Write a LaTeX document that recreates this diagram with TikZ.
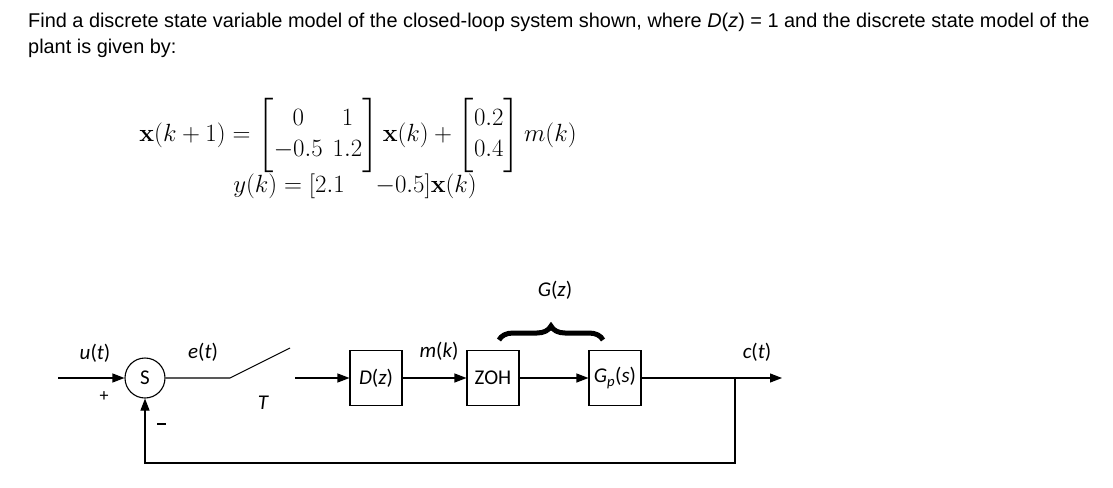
\documentclass[tikz,border=0pt]{standalone}
\usepackage{amsmath,amssymb}
\usepackage[no-math]{fontspec}
\setmainfont{Liberation Sans}
\newfontfamily\carl{Carlito}
\usetikzlibrary{arrows.meta,decorations.pathreplacing}
\begin{document}
\begin{tikzpicture}[x=1pt,y=-1pt,
  blk/.style={draw,line width=1.1pt,minimum width=52pt,minimum height=55pt,inner sep=0pt,font=\carl\fontsize{21}{21}\selectfont},
  lbl/.style={font=\carl\fontsize{21}{21}\selectfont\itshape,inner sep=0pt},
  ln/.style={line width=1.1pt},
  arr/.style={ln,-{Triangle[length=12pt,width=9pt]}}]
\useasboundingbox (0,0) rectangle (1113,487);
\node[anchor=base west,inner sep=0pt,font=\fontsize{19.9}{19.9}\selectfont] (t1) at (28,28) {Find a discrete state variable model of the closed-loop system shown, where \textit{D}(\textit{z}) = 1 and the discrete state model of the};
\node[anchor=base west,inner sep=0pt,font=\fontsize{19.9}{19.9}\selectfont] (t2) at (28,54) {plant is given by:};
\node[inner sep=0pt,font=\fontsize{31}{31}\selectfont] (eq1) at (358,135) {$\mathbf{x}(k+1)=\begin{bmatrix}0 & 1\\ -0.5 & 1.2\end{bmatrix}\mathbf{x}(k)+\begin{bmatrix}0.2\\ 0.4\end{bmatrix}m(k)$};
\node[inner sep=0pt,font=\fontsize{31}{31}\selectfont] (eq2) at (355,186) {$y(k)=[2.1\quad {-0.5}]\mathbf{x}(k)$};
% diagram
\coordinate (in) at (58,378);
\node[draw,circle,ln,minimum size=40pt,inner sep=0pt,font=\carl\fontsize{21}{21}\selectfont] (S) at (145,378) {S};
\coordinate (sw1) at (230,378);
\coordinate (sw2) at (290,348);
\coordinate (g1) at (295,378);
\node[blk] (D) at (376,378) {\itshape D\upshape(\itshape z\upshape)};
\node[blk] (Z) at (493,378) {ZOH};
\node[blk] (G) at (615,378) {\itshape G\textsubscript{\itshape p}\upshape(\itshape s\upshape)};
\coordinate (br) at (735,378);
\coordinate (out) at (782,378);
\coordinate (b1) at (735,463);
\coordinate (b2) at (145,463);
\draw[arr] (in) -- (S);
\draw[ln] (S) -- (sw1) -- (sw2);
\draw[arr] (g1) -- (D);
\draw[arr] (D) -- (Z);
\draw[arr] (Z) -- (G);
\draw[arr] (G) -- (out);
\draw[arr] (br) -- (b1) -- (b2) -- (S);
\draw[line width=5pt,decorate,decoration={brace,amplitude=14pt,raise=0pt}] (499,340) -- (603,340);
\node[lbl] (uL) at (95,353) {u\upshape(\itshape t\upshape)};
\node[lbl] (eL) at (203,352) {e\upshape(\itshape t\upshape)};
\node[lbl] (mL) at (439,351) {m\upshape(\itshape k\upshape)};
\node[lbl] (cL) at (757,352) {c\upshape(\itshape t\upshape)};
\node[lbl] (TL) at (263,403) {T};
\node[lbl] (GL) at (555,290) {G\upshape(\itshape z\upshape)};
\node[inner sep=0pt,font=\carl\fontsize{18}{18}\selectfont] (plus) at (104,397) {+};
\draw[line width=2pt] (157,424) -- (166,424);
\end{tikzpicture}
\end{document}
